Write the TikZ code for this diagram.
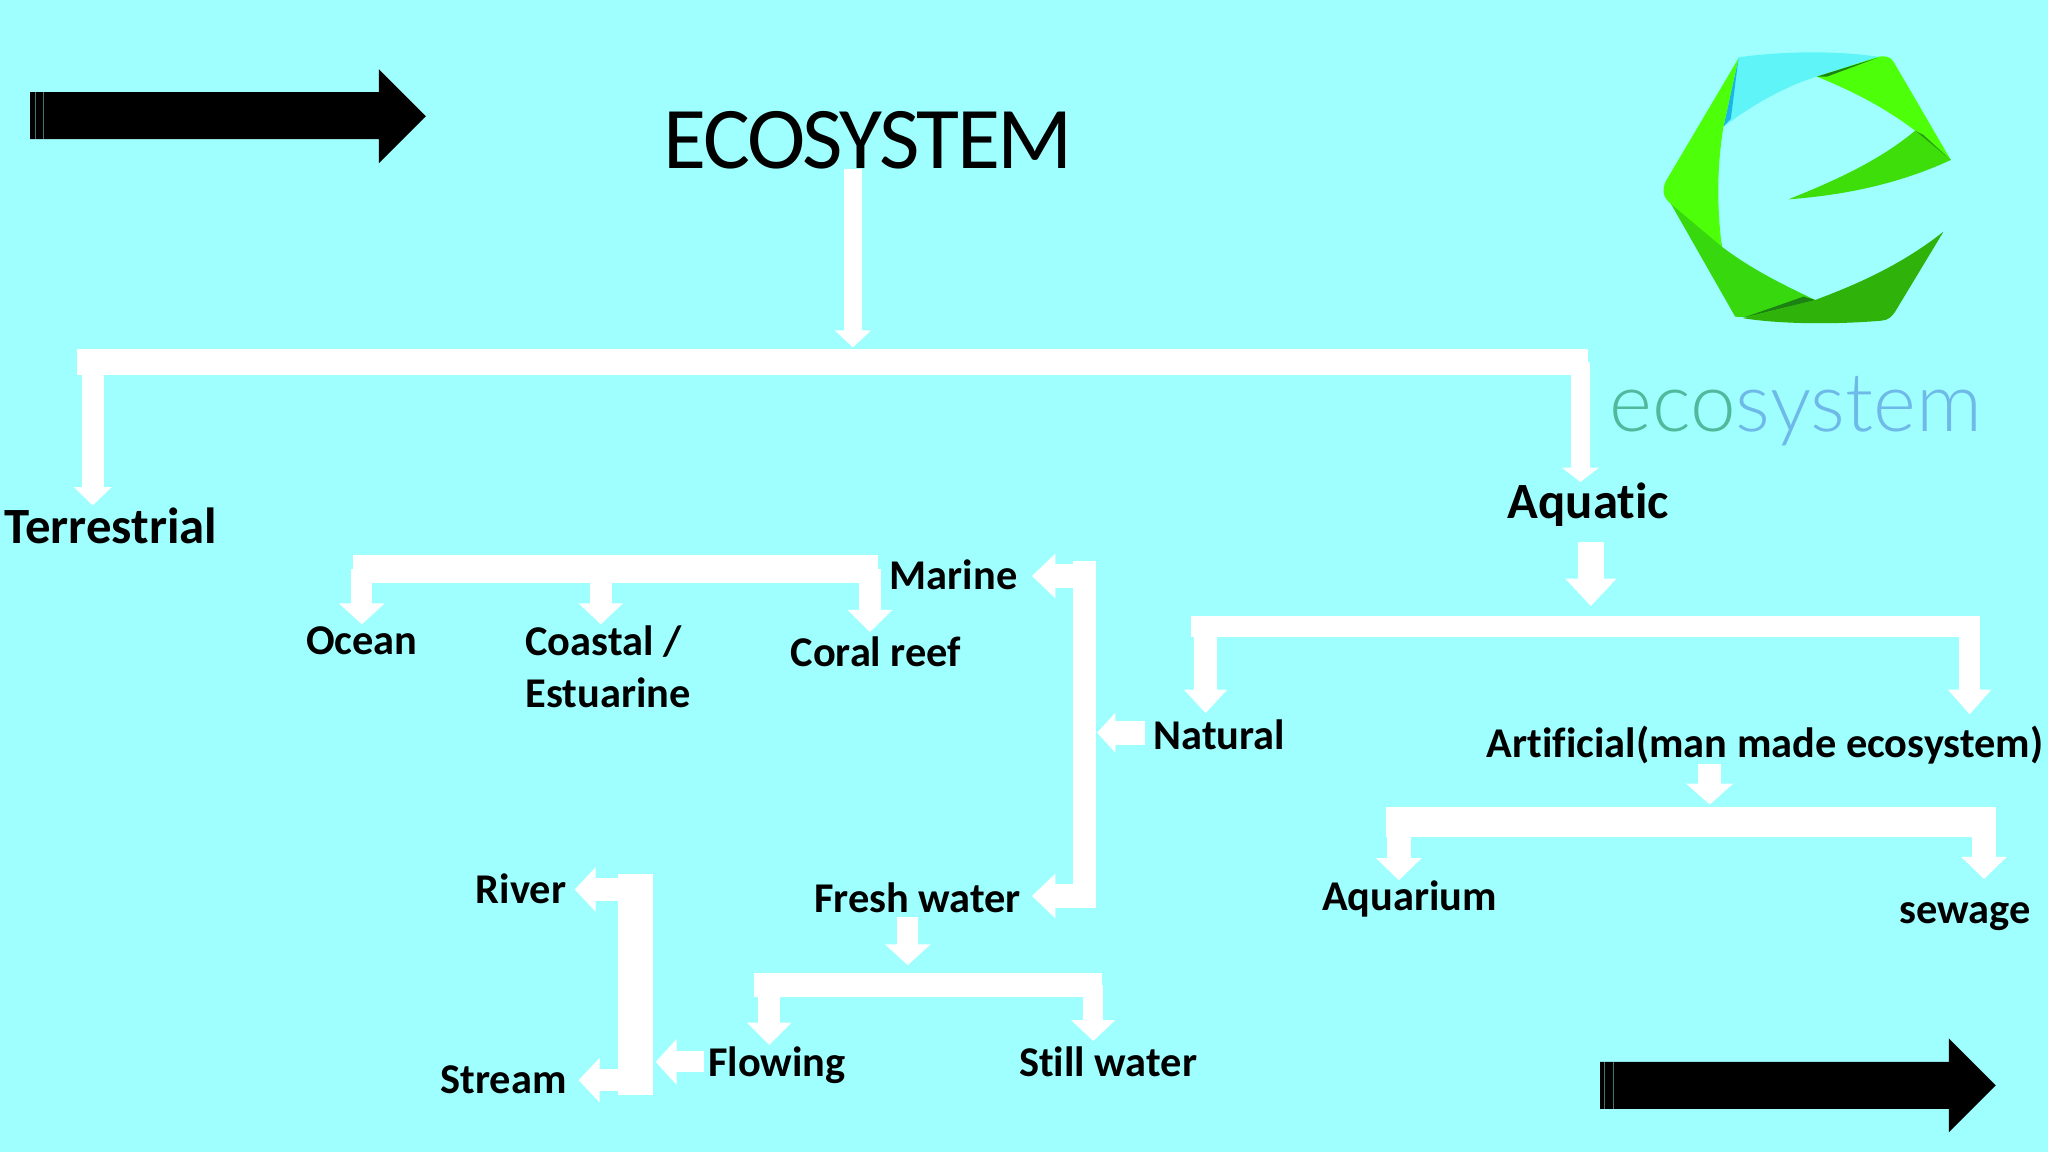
\documentclass[tikz,border=0pt]{standalone}
\usepackage{fontspec}
\setmainfont{Carlito}[Ligatures=NoCommon]
\newfontfamily\logofont{Lato Light}
\usetikzlibrary{arrows.meta,calc}
\definecolor{bgc}{RGB}{159,255,255}
\definecolor{lgA}{RGB}{78,255,10}
\definecolor{lgB}{RGB}{62,222,10}
\definecolor{lgC}{RGB}{56,216,14}
\definecolor{lgD}{RGB}{47,178,10}
\definecolor{lgE}{RGB}{28,130,20}
\definecolor{lgCy}{RGB}{95,245,248}
\definecolor{lgBl}{RGB}{26,180,232}
\definecolor{txtG}{RGB}{80,184,155}
\definecolor{txtB}{RGB}{110,185,232}
\tikzset{
  conn/.style n args={3}{draw=white,line width=#1*0.6531pt,
    -{Triangle[width=#2*0.6531pt,length=#3*0.6531pt,color=white,fill=white]}},
  barbox/.style 2 args={fill=white,draw=none,inner sep=0pt,outer sep=0pt,
    minimum width=#1*0.6531pt,minimum height=#2*0.6531pt},
  big/.style={anchor=base west,inner sep=0pt,font=\fontsize{25.4}{30}\selectfont\bfseries},
  lab/.style={anchor=base west,inner sep=0pt,font=\fontsize{21.2}{26}\selectfont\bfseries},
  blk/.style={fill=black,draw=none},
  hair/.style={draw=black!55!bgc,line width=0.5pt}
}
\begin{document}
\begin{tikzpicture}[x=0.6531pt,y=-0.6531pt]
\useasboundingbox (0,0) rectangle (1568,882);
\fill[bgc] (0,0) rectangle (1568,882);

% black block arrows
\fill[blk] (23,70.5) -- (290,70.5) -- (290,53) -- (326,89) -- (290,125) -- (290,106.5) -- (23,106.5) -- cycle;
\draw[hair] (26.8,70.5) -- (26.8,106.5) (33.5,70.5) -- (33.5,106.5);
\fill[blk] (1225,813) -- (1492,813) -- (1492,795) -- (1528,831) -- (1492,867) -- (1492,849) -- (1225,849) -- cycle;
\draw[hair] (1228.8,813) -- (1228.8,849) (1235.5,813) -- (1235.5,849);

% logo
\begin{scope}[shift={(1194.5,15.3)},x=0.16667pt,y=-0.16667pt]
  \fill[lgCy] (535,112) .. controls (680,92) and (840,92) .. (965,112) -- (770,170) .. controls (670,200) and (570,260) .. (490,320) -- cycle;
  \fill[lgBl] (535,115) -- (490,320) -- (512,296) -- cycle;
  \fill[lgA] (770,170) -- (950,112) .. controls (975,105) and (990,110) .. (1000,125) -- (1172,420) -- (1065,332) .. controls (970,260) and (870,210) .. (770,170) -- cycle;
  \fill[lgE] (770,170) -- (950,114) -- (800,170) -- cycle;
  \fill[lgB] (1065,332) -- (1172,420) .. controls (1020,490) and (860,525) .. (685,538) .. controls (830,480) and (960,420) .. (1065,332) -- cycle;
  \fill[lgE!70!lgB] (1065,332) -- (1172,420) -- (1090,345) -- cycle;
  \fill[lgC] (320,530) -- (525,890) -- (590,895) -- (765,840) .. controls (660,790) and (570,745) .. (485,680) -- cycle;
  \fill[lgE!75!lgC] (330,540) -- (485,680) -- (480,655) -- cycle;
  \fill[lgD] (1150,635) .. controls (1030,730) and (900,790) .. (765,840) -- (550,895) .. controls (680,915) and (850,912) .. (965,902) .. controls (985,900) and (995,890) .. (1005,875) -- cycle;
  \fill[lgE] (550,893) -- (730,830) -- (765,840) -- cycle;
  \fill[lgA] (535,115) -- (325,470) .. controls (305,500) and (305,525) .. (325,545) -- (485,680) .. controls (470,560) and (470,440) .. (490,320) -- cycle;
\end{scope}
\node[anchor=base west,inner sep=0pt,font=\fontsize{41}{50}\logofont] (logotext) at (1232,330.5) {\textcolor{txtG}{eco}\textcolor{txtB}{system}};

% labels
\node[anchor=base west,inner sep=0pt,font=\fontsize{44}{52}\selectfont\addfontfeature{LetterSpace=-2.8}] (eco) at (508,129) {ECOSYSTEM};
\node[big] (terr) at (3,416) {Terrestrial};
\node[big] (aqua) at (1154,397) {Aquatic};
\node[lab] (marine) at (681,451) {Marine};
\node[lab] (ocean) at (234,501) {Ocean};
\node[lab,align=left] (coast) at (402,542) {Coastal /\\Estuarine};
\node[lab] (coral) at (605,510) {Coral reef};
\node[lab] (natural) at (883,574) {Natural};
\node[lab] (artif) at (1138,580) {Artificial(man made ecosystem)};
\node[lab] (aquar) at (1012,697) {Aquarium};
\node[lab] (sewage) at (1454,707) {sewage};
\node[lab] (river) at (364,692) {River};
\node[lab] (fresh) at (623,699) {Fresh water};
\node[lab] (flow) at (542,824) {Flowing};
\node[lab] (still) at (780,824) {Still water};
\node[lab] (stream) at (337,837) {Stream};

% bars
\node[barbox={1157}{20}] (mainbar) at (637.5,277) {};
\node[barbox={604}{16}] (aqbar) at (1214,480) {};
\node[barbox={467}{23}] (artbar) at (1294.5,629.5) {};
\node[barbox={402}{21}] (marbar) at (471,435.5) {};
\node[barbox={267}{18}] (frbar) at (710.5,754) {};
\node[barbox={18}{266}] (natbar) at (830.5,562.5) {};
\node[barbox={27}{169}] (flbar) at (486.5,753.5) {};

% tips
\coordinate (tE) at (653,266);
\coordinate (tTerr) at (71,387);
\coordinate (tAqua) at (1210,369);
\coordinate (sAq) at (1218,415);
\coordinate (tAq) at (1218,464);
\coordinate (tNat) at (923,546);
\coordinate (tArt) at (1508,547);
\coordinate (sNat) at (877,561);
\coordinate (tNatB) at (840,561);
\coordinate (tMar) at (790,441);
\coordinate (tFr) at (790,686);
\coordinate (tOc) at (277,478);
\coordinate (tCo) at (460,478);
\coordinate (tCr) at (666,484);
\coordinate (sFr) at (695,702);
\coordinate (tFrD) at (695,739);
\coordinate (tFl) at (589,800);
\coordinate (tSt) at (837,797);
\coordinate (sFl) at (539,813);
\coordinate (tFlB) at (502,813);
\coordinate (tRi) at (440,681);
\coordinate (tSr) at (443,827);
\coordinate (sAr) at (1309,585);
\coordinate (tArD) at (1309,616);
\coordinate (tAm) at (1071,674);
\coordinate (tSe) at (1519,673);

% connectors
\draw[conn={14}{27}{13}] (eco.south -| tE) -- (tE);
\draw[conn={17}{28}{14}] (mainbar -| tTerr) -- (tTerr);
\draw[conn={15}{28}{11}] (mainbar -| tAqua) -- (tAqua);
\draw[conn={20}{38}{21}] (sAq) -- (tAq);
\draw[conn={18}{32}{18}] (aqbar -| tNat) -- (tNat);
\draw[conn={16}{32}{19}] (aqbar -| tArt) -- (tArt);
\draw[conn={18}{30}{14}] (sNat) -- (tNatB);
\draw[conn={18}{33}{18}] (natbar |- tMar) -- (tMar);
\draw[conn={18}{33}{18}] (natbar |- tFr) -- (tFr);
\draw[conn={16}{34}{16}] (marbar -| tOc) -- (tOc);
\draw[conn={17}{33}{16}] (marbar -| tCo) -- (tCo);
\draw[conn={17}{33}{17}] (marbar -| tCr) -- (tCr);
\draw[conn={16}{34}{16}] (sFr) -- (tFrD);
\draw[conn={17}{33}{17}] (frbar -| tFl) -- (tFl);
\draw[conn={15}{33}{16}] (frbar -| tSt) -- (tSt);
\draw[conn={16}{34}{16}] (sFl) -- (tFlB);
\draw[conn={17}{33}{16}] (flbar |- tRi) -- (tRi);
\draw[conn={17}{33}{16}] (flbar |- tSr) -- (tSr);
\draw[conn={18}{35}{16}] (sAr) -- (tArD);
\draw[conn={18}{34}{17}] (artbar -| tAm) -- (tAm);
\draw[conn={18}{34}{17}] (artbar -| tSe) -- (tSe);
\end{tikzpicture}
\end{document}
